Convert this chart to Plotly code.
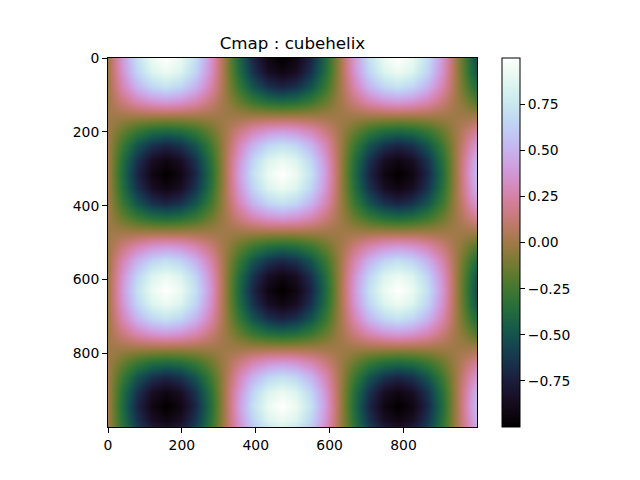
import math
import plotly.graph_objects as go

# values, one list per image row
# sample points picked so the light and dark centres land on the grid
xs = [0, 39, 79, 118, 157, 196, 236, 275, 314, 353, 393, 432, 471, 510, 550, 589, 628, 667, 707, 746, 785, 824, 864, 903, 942, 981, 999]
ys = [0, 39, 79, 118, 157, 196, 236, 275, 314, 353, 393, 432, 471, 510, 550, 589, 628, 667, 707, 746, 785, 824, 864, 903, 942, 981, 999]

row_0 = [0, .38, .71, .92, 1.0, .92, .71, .38, 0, -.38, -.71, -.92, -1.0, -.92, -.71, -.38, 0, .38, .71, .92, 1.0, .92, .71, .38, 0, -.38, -.54]
row_39 = [0, .35, .65, .85, .92, .85, .65, .35, 0, -.35, -.65, -.85, -.92, -.85, -.65, -.35, 0, .35, .65, .85, .92, .85, .65, .35, 0, -.35, -.50]
row_79 = [0, .27, .50, .65, .71, .65, .50, .27, 0, -.27, -.50, -.65, -.71, -.65, -.50, -.27, 0, .27, .50, .65, .71, .65, .50, .27, 0, -.27, -.38]
row_118 = [0, .14, .27, .35, .38, .35, .27, .14, 0, -.14, -.27, -.35, -.38, -.35, -.27, -.14, 0, .14, .27, .35, .38, .35, .27, .14, 0, -.14, -.21]
row_157 = [0, 0, 0, 0, 0, 0, 0, 0, 0, 0, 0, 0, 0, 0, 0, 0, 0, 0, 0, 0, 0, 0, 0, 0, 0, 0, 0]
row_196 = [0, -.14, -.27, -.35, -.38, -.35, -.27, -.14, 0, .14, .27, .35, .38, .35, .27, .14, 0, -.14, -.27, -.35, -.38, -.35, -.27, -.14, 0, .14, .21]
row_236 = [0, -.27, -.50, -.65, -.71, -.65, -.50, -.27, 0, .27, .50, .65, .71, .65, .50, .27, 0, -.27, -.50, -.65, -.71, -.65, -.50, -.27, 0, .27, .38]
row_275 = [0, -.35, -.65, -.85, -.92, -.85, -.65, -.35, 0, .35, .65, .85, .92, .85, .65, .35, 0, -.35, -.65, -.85, -.92, -.85, -.65, -.35, 0, .35, .50]
row_314 = [0, -.38, -.71, -.92, -1.0, -.92, -.71, -.38, 0, .38, .71, .92, 1.0, .92, .71, .38, 0, -.38, -.71, -.92, -1.0, -.92, -.71, -.38, 0, .38, .54]
row_353 = [0, -.35, -.65, -.85, -.92, -.85, -.65, -.35, 0, .35, .65, .85, .92, .85, .65, .35, 0, -.35, -.65, -.85, -.92, -.85, -.65, -.35, 0, .35, .50]
row_393 = [0, -.27, -.50, -.65, -.71, -.65, -.50, -.27, 0, .27, .50, .65, .71, .65, .50, .27, 0, -.27, -.50, -.65, -.71, -.65, -.50, -.27, 0, .27, .38]
row_432 = [0, -.14, -.27, -.35, -.38, -.35, -.27, -.14, 0, .14, .27, .35, .38, .35, .27, .14, 0, -.14, -.27, -.35, -.38, -.35, -.27, -.14, 0, .14, .21]
row_471 = [0, 0, 0, 0, 0, 0, 0, 0, 0, 0, 0, 0, 0, 0, 0, 0, 0, 0, 0, 0, 0, 0, 0, 0, 0, 0, 0]
row_510 = [0, .14, .27, .35, .38, .35, .27, .14, 0, -.14, -.27, -.35, -.38, -.35, -.27, -.14, 0, .14, .27, .35, .38, .35, .27, .14, 0, -.14, -.21]
row_550 = [0, .27, .50, .65, .71, .65, .50, .27, 0, -.27, -.50, -.65, -.71, -.65, -.50, -.27, 0, .27, .50, .65, .71, .65, .50, .27, 0, -.27, -.38]
row_589 = [0, .35, .65, .85, .92, .85, .65, .35, 0, -.35, -.65, -.85, -.92, -.85, -.65, -.35, 0, .35, .65, .85, .92, .85, .65, .35, 0, -.35, -.50]
row_628 = [0, .38, .71, .92, 1.0, .92, .71, .38, 0, -.38, -.71, -.92, -1.0, -.92, -.71, -.38, 0, .38, .71, .92, 1.0, .92, .71, .38, 0, -.38, -.54]
row_667 = [0, .35, .65, .85, .92, .85, .65, .35, 0, -.35, -.65, -.85, -.92, -.85, -.65, -.35, 0, .35, .65, .85, .92, .85, .65, .35, 0, -.35, -.50]
row_707 = [0, .27, .50, .65, .71, .65, .50, .27, 0, -.27, -.50, -.65, -.71, -.65, -.50, -.27, 0, .27, .50, .65, .71, .65, .50, .27, 0, -.27, -.38]
row_746 = [0, .14, .27, .35, .38, .35, .27, .14, 0, -.14, -.27, -.35, -.38, -.35, -.27, -.14, 0, .14, .27, .35, .38, .35, .27, .14, 0, -.14, -.21]
row_785 = [0, 0, 0, 0, 0, 0, 0, 0, 0, 0, 0, 0, 0, 0, 0, 0, 0, 0, 0, 0, 0, 0, 0, 0, 0, 0, 0]
row_824 = [0, -.14, -.27, -.35, -.38, -.35, -.27, -.14, 0, .14, .27, .35, .38, .35, .27, .14, 0, -.14, -.27, -.35, -.38, -.35, -.27, -.14, 0, .14, .21]
row_864 = [0, -.27, -.50, -.65, -.71, -.65, -.50, -.27, 0, .27, .50, .65, .71, .65, .50, .27, 0, -.27, -.50, -.65, -.71, -.65, -.50, -.27, 0, .27, .38]
row_903 = [0, -.35, -.65, -.85, -.92, -.85, -.65, -.35, 0, .35, .65, .85, .92, .85, .65, .35, 0, -.35, -.65, -.85, -.92, -.85, -.65, -.35, 0, .35, .50]
row_942 = [0, -.38, -.71, -.92, -1.0, -.92, -.71, -.38, 0, .38, .71, .92, 1.0, .92, .71, .38, 0, -.38, -.71, -.92, -1.0, -.92, -.71, -.38, 0, .38, .54]
row_981 = [0, -.35, -.65, -.85, -.92, -.85, -.65, -.35, 0, .35, .65, .85, .92, .85, .65, .35, 0, -.35, -.65, -.85, -.92, -.85, -.65, -.35, 0, .35, .50]
row_999 = [0, -.32, -.60, -.77, -.84, -.77, -.60, -.32, 0, .32, .60, .77, .84, .77, .60, .32, 0, -.32, -.60, -.77, -.84, -.77, -.60, -.32, 0, .32, .45]

rows = [row_0, row_39, row_79, row_118, row_157, row_196, row_236, row_275, row_314,
        row_353, row_393, row_432, row_471, row_510, row_550, row_589, row_628, row_667,
        row_707, row_746, row_785, row_824, row_864, row_903, row_942, row_981, row_999]

x_ticks = [0, 200, 400, 600, 800]
y_ticks = [0, 200, 400, 600, 800]
cbar_ticks = [-0.75, -0.5, -0.25, 0, 0.25, 0.5, 0.75]


def cubehelix(t):
    a = t * (1 - t) / 2
    phi = 2 * math.pi * (0.5 / 3 - 1.5 * t)
    c, s = math.cos(phi), math.sin(phi)
    r = t + a * (-0.14861 * c + 1.78277 * s)
    g = t + a * (-0.29227 * c - 0.90649 * s)
    b = t + a * (1.97294 * c)
    clip = lambda v: int(round(255 * min(1, max(0, v))))
    return f"rgb({clip(r)},{clip(g)},{clip(b)})"


colorscale = [[i / 64, cubehelix(i / 64)] for i in range(65)]

fig = go.Figure(go.Heatmap(
    x=xs, y=ys, z=rows,
    zmin=-1, zmax=1,
    zsmooth="best",
    colorscale=colorscale,
    colorbar=dict(
        x=1.0678, xanchor="left", xpad=0, y=0.5, yanchor="middle", ypad=0,
        len=1, lenmode="fraction", thickness=18, thicknessmode="pixels",
        outlinecolor="black", outlinewidth=1,
        tickmode="array", tickvals=cbar_ticks, ticktext=["−0.75", "−0.50", "−0.25", "0.00", "0.25", "0.50", "0.75"],
        ticks="outside", ticklen=5, tickwidth=1, tickcolor="black",
    ),
))

axis = dict(showgrid=False, zeroline=False, showline=True, linecolor="black", linewidth=1, mirror=True,
            ticks="outside", ticklen=5, tickwidth=1, tickcolor="black", tickmode="array")

fig.update_xaxes(range=[0, 999], tickvals=x_ticks, **axis)
fig.update_yaxes(range=[999, 0], tickvals=y_ticks, **axis)

# page body adds an 8px offset, so margins are shifted to compensate
fig.update_layout(
    width=640, height=480,
    margin=dict(l=100, r=171, t=50, b=61, pad=0),
    paper_bgcolor="white", plot_bgcolor="white",
    font=dict(family="DejaVu Sans", size=13.9, color="black"),
    title=dict(text="Cmap : cubehelix", font=dict(size=16.7, color="black"),
               x=0.4445, xanchor="center", xref="container", y=0.927, yanchor="middle"),
)

fig.write_html("out.html")
